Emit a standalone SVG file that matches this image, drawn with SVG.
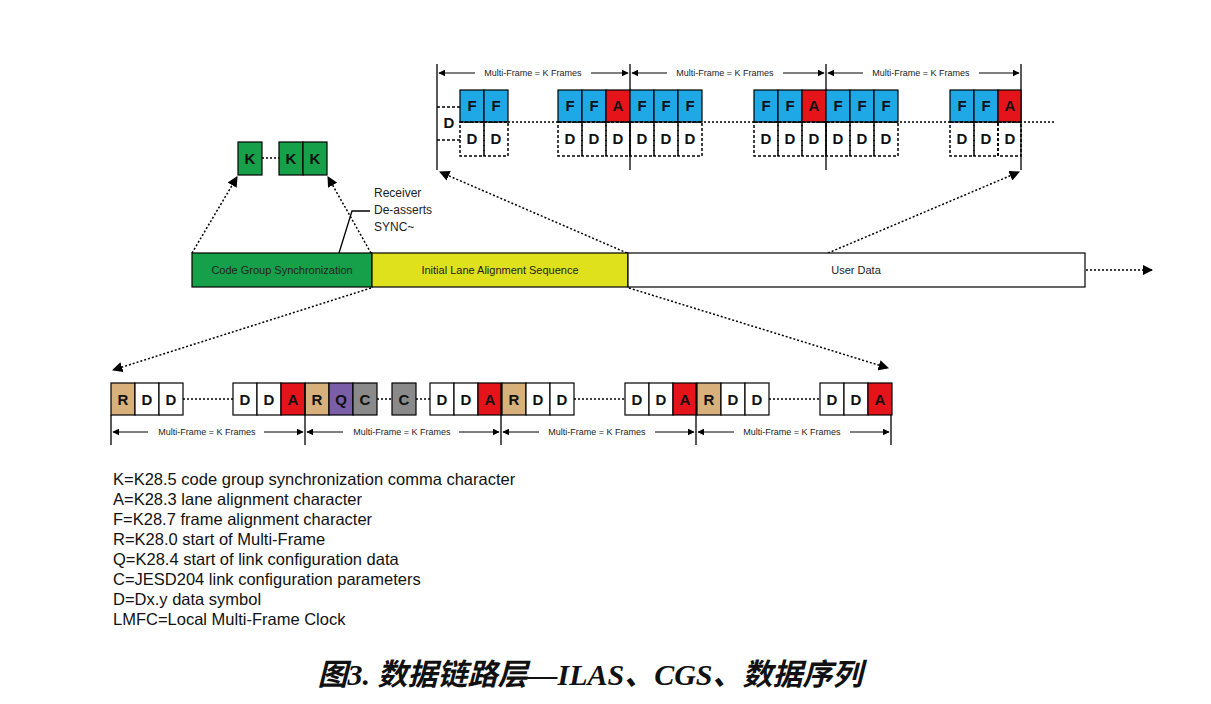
<svg xmlns="http://www.w3.org/2000/svg" width="1211" height="704" viewBox="0 0 1211 704">
<defs>
<marker id="ah" viewBox="0 0 10 10" refX="9" refY="5" markerWidth="7" markerHeight="7" orient="auto-start-reverse"><path d="M0,0 L10,5 L0,10 z" fill="#000"/></marker>
<style>
.b{stroke:#000;stroke-width:1.2}
.dash{fill:none;stroke:#000;stroke-width:1.5;stroke-dasharray:3,2}
.dot{fill:none;stroke:#000;stroke-width:1.5;stroke-dasharray:2,2}
.t{font-family:"Liberation Sans",Arial,sans-serif;font-weight:bold;font-size:15px;text-anchor:middle;fill:#111}
.s{font-family:"Liberation Sans",Arial,sans-serif;font-size:9px;text-anchor:middle;fill:#222}
.m{font-family:"Liberation Sans",Arial,sans-serif;font-size:11px;text-anchor:middle;fill:#222}
.l{font-family:"Liberation Sans",Arial,sans-serif;font-size:16.5px;fill:#111}
.rc{font-family:"Liberation Sans",Arial,sans-serif;font-size:12px;fill:#222}
.ar{stroke:#000;stroke-width:1;marker-start:url(#ah);marker-end:url(#ah)}
.g{fill:#16a04a}.y{fill:#dfe11c}.bl{fill:#1ea8e6}.r{fill:#e5141b}.tan{fill:#d8b07c}.p{fill:#7a5ea8}.gr{fill:#8a8a8a}.w{fill:#fff}
</style>
</defs>
<rect width="1211" height="704" fill="#fff"/>
<g id="connectors">
<line class="dot" x1="192" y1="253" x2="237" y2="177" marker-end="url(#ah)"/>
<line class="dot" x1="371" y1="253" x2="328" y2="177" marker-end="url(#ah)"/>
<polyline points="339,253 352,211 370,211" fill="none" stroke="#000" stroke-width="1.3"/>
<line class="dot" x1="627" y1="253" x2="440" y2="172" marker-end="url(#ah)"/>
<line class="dot" x1="828" y1="253" x2="1019" y2="172" marker-end="url(#ah)"/>
<line class="dot" x1="371" y1="288" x2="113" y2="370" marker-end="url(#ah)"/>
<line class="dot" x1="629" y1="288" x2="888" y2="368" marker-end="url(#ah)"/>
<line class="dot" x1="1086" y1="270" x2="1152" y2="270" marker-end="url(#ah)"/>
</g>
<g id="bar">
<rect class="b g" x="192" y="253" width="180" height="34"/>
<text class="m" x="282" y="274">Code Group Synchronization</text>
<rect class="b y" x="372" y="253" width="256" height="34"/>
<text class="m" x="500" y="274">Initial Lane Alignment Sequence</text>
<rect class="b w" x="628" y="253" width="457" height="34"/>
<text class="m" x="856" y="274">User Data</text>
</g>
<g id="kboxes">
<rect class="b g" x="238" y="142" width="24" height="33"/><text class="t" x="250" y="164">K</text>
<line class="dot" x1="262" y1="158" x2="279" y2="158"/>
<rect class="b g" x="279" y="142" width="24" height="33"/><text class="t" x="291" y="164">K</text>
<rect class="b g" x="303" y="142" width="24" height="33"/><text class="t" x="315" y="164">K</text>
</g>
<g id="receiver">
<text class="rc" x="374" y="197">Receiver</text>
<text class="rc" x="374" y="214">De-asserts</text>
<text class="rc" x="374" y="231">SYNC~</text>
</g>
<g id="top">
<line x1="437" y1="64" x2="437" y2="170" stroke="#000" stroke-width="1.3"/>
<line x1="630" y1="64" x2="630" y2="170" stroke="#000" stroke-width="1.3"/>
<line x1="826" y1="64" x2="826" y2="170" stroke="#000" stroke-width="1.3"/>
<line x1="1021" y1="64" x2="1021" y2="170" stroke="#000" stroke-width="1.3"/>
<line class="ar" x1="439" y1="73" x2="628" y2="73"/>
<line class="ar" x1="632" y1="73" x2="824" y2="73"/>
<line class="ar" x1="828" y1="73" x2="1019" y2="73"/>
<rect x="475" y="67" width="116" height="12" fill="#fff"/><text class="s" x="533" y="76">Multi-Frame = K Frames</text>
<rect x="667" y="67" width="116" height="12" fill="#fff"/><text class="s" x="725" y="76">Multi-Frame = K Frames</text>
<rect x="863" y="67" width="116" height="12" fill="#fff"/><text class="s" x="921" y="76">Multi-Frame = K Frames</text>
<line class="dot" x1="460" y1="122" x2="1055" y2="122"/>
<polyline class="dash" points="437,107 460,107"/><polyline class="dash" points="437,140 460,140"/>
<text class="t" x="449" y="128">D</text>
<g>
<rect class="b bl" x="460" y="90" width="24" height="32"/><text class="t" x="472" y="111">F</text>
<rect class="b bl" x="484" y="90" width="24" height="32"/><text class="t" x="496" y="111">F</text>
<rect class="dash" x="460" y="122" width="24" height="34"/><text class="t" x="472" y="144">D</text>
<rect class="dash" x="484" y="122" width="24" height="34"/><text class="t" x="496" y="144">D</text>
</g>
<g>
<rect class="b bl" x="558" y="90" width="24" height="32"/><text class="t" x="570" y="111">F</text>
<rect class="b bl" x="582" y="90" width="24" height="32"/><text class="t" x="594" y="111">F</text>
<rect class="b r" x="606" y="90" width="24" height="32"/><text class="t" x="618" y="111">A</text>
<rect class="b bl" x="630" y="90" width="24" height="32"/><text class="t" x="642" y="111">F</text>
<rect class="b bl" x="654" y="90" width="24" height="32"/><text class="t" x="666" y="111">F</text>
<rect class="b bl" x="678" y="90" width="24" height="32"/><text class="t" x="690" y="111">F</text>
<rect class="dash" x="558" y="122" width="24" height="34"/><text class="t" x="570" y="144">D</text>
<rect class="dash" x="582" y="122" width="24" height="34"/><text class="t" x="594" y="144">D</text>
<rect class="dash" x="606" y="122" width="24" height="34"/><text class="t" x="618" y="144">D</text>
<rect class="dash" x="630" y="122" width="24" height="34"/><text class="t" x="642" y="144">D</text>
<rect class="dash" x="654" y="122" width="24" height="34"/><text class="t" x="666" y="144">D</text>
<rect class="dash" x="678" y="122" width="24" height="34"/><text class="t" x="690" y="144">D</text>
</g>
<g>
<rect class="b bl" x="754" y="90" width="24" height="32"/><text class="t" x="766" y="111">F</text>
<rect class="b bl" x="778" y="90" width="24" height="32"/><text class="t" x="790" y="111">F</text>
<rect class="b r" x="802" y="90" width="24" height="32"/><text class="t" x="814" y="111">A</text>
<rect class="b bl" x="826" y="90" width="24" height="32"/><text class="t" x="838" y="111">F</text>
<rect class="b bl" x="850" y="90" width="24" height="32"/><text class="t" x="862" y="111">F</text>
<rect class="b bl" x="874" y="90" width="24" height="32"/><text class="t" x="886" y="111">F</text>
<rect class="dash" x="754" y="122" width="24" height="34"/><text class="t" x="766" y="144">D</text>
<rect class="dash" x="778" y="122" width="24" height="34"/><text class="t" x="790" y="144">D</text>
<rect class="dash" x="802" y="122" width="24" height="34"/><text class="t" x="814" y="144">D</text>
<rect class="dash" x="826" y="122" width="24" height="34"/><text class="t" x="838" y="144">D</text>
<rect class="dash" x="850" y="122" width="24" height="34"/><text class="t" x="862" y="144">D</text>
<rect class="dash" x="874" y="122" width="24" height="34"/><text class="t" x="886" y="144">D</text>
</g>
<g>
<rect class="b bl" x="950" y="90" width="24" height="32"/><text class="t" x="962" y="111">F</text>
<rect class="b bl" x="974" y="90" width="24" height="32"/><text class="t" x="986" y="111">F</text>
<rect class="b r" x="998" y="90" width="23" height="32"/><text class="t" x="1010" y="111">A</text>
<rect class="dash" x="950" y="122" width="24" height="34"/><text class="t" x="962" y="144">D</text>
<rect class="dash" x="974" y="122" width="24" height="34"/><text class="t" x="986" y="144">D</text>
<rect class="dash" x="998" y="122" width="23" height="34"/><text class="t" x="1010" y="144">D</text>
</g>
</g>
<g id="bottom">
<line class="dot" x1="183" y1="399" x2="233" y2="399"/>
<line class="dot" x1="377" y1="399" x2="392" y2="399"/>
<line class="dot" x1="416" y1="399" x2="430" y2="399"/>
<line class="dot" x1="574" y1="399" x2="625" y2="399"/>
<line class="dot" x1="769" y1="399" x2="820" y2="399"/>
<rect class="b tan" x="111" y="383" width="24" height="32"/><text class="t" x="123" y="405">R</text>
<rect class="b w" x="135" y="383" width="24" height="32"/><text class="t" x="147" y="405">D</text>
<rect class="b w" x="159" y="383" width="24" height="32"/><text class="t" x="171" y="405">D</text>
<rect class="b w" x="233" y="383" width="24" height="32"/><text class="t" x="245" y="405">D</text>
<rect class="b w" x="257" y="383" width="24" height="32"/><text class="t" x="269" y="405">D</text>
<rect class="b r" x="281" y="383" width="24" height="32"/><text class="t" x="293" y="405">A</text>
<rect class="b tan" x="305" y="383" width="24" height="32"/><text class="t" x="317" y="405">R</text>
<rect class="b p" x="329" y="383" width="24" height="32"/><text class="t" x="341" y="405">Q</text>
<rect class="b gr" x="353" y="383" width="24" height="32"/><text class="t" x="365" y="405">C</text>
<rect class="b gr" x="392" y="383" width="24" height="32"/><text class="t" x="404" y="405">C</text>
<rect class="b w" x="430" y="383" width="24" height="32"/><text class="t" x="442" y="405">D</text>
<rect class="b w" x="454" y="383" width="24" height="32"/><text class="t" x="466" y="405">D</text>
<rect class="b r" x="478" y="383" width="24" height="32"/><text class="t" x="490" y="405">A</text>
<rect class="b tan" x="502" y="383" width="24" height="32"/><text class="t" x="514" y="405">R</text>
<rect class="b w" x="526" y="383" width="24" height="32"/><text class="t" x="538" y="405">D</text>
<rect class="b w" x="550" y="383" width="24" height="32"/><text class="t" x="562" y="405">D</text>
<rect class="b w" x="625" y="383" width="24" height="32"/><text class="t" x="637" y="405">D</text>
<rect class="b w" x="649" y="383" width="24" height="32"/><text class="t" x="661" y="405">D</text>
<rect class="b r" x="673" y="383" width="24" height="32"/><text class="t" x="685" y="405">A</text>
<rect class="b tan" x="697" y="383" width="24" height="32"/><text class="t" x="709" y="405">R</text>
<rect class="b w" x="721" y="383" width="24" height="32"/><text class="t" x="733" y="405">D</text>
<rect class="b w" x="745" y="383" width="24" height="32"/><text class="t" x="757" y="405">D</text>
<rect class="b w" x="820" y="383" width="24" height="32"/><text class="t" x="832" y="405">D</text>
<rect class="b w" x="844" y="383" width="24" height="32"/><text class="t" x="856" y="405">D</text>
<rect class="b r" x="868" y="383" width="24" height="32"/><text class="t" x="880" y="405">A</text>
<g stroke="#000" stroke-width="1.3">
<line x1="111" y1="415" x2="111" y2="445"/><line x1="305" y1="383" x2="305" y2="445"/><line x1="501" y1="383" x2="501" y2="445"/><line x1="696" y1="383" x2="696" y2="445"/><line x1="891" y1="415" x2="891" y2="445"/>
</g>
<line class="ar" x1="113" y1="432" x2="303" y2="432"/>
<line class="ar" x1="307" y1="432" x2="499" y2="432"/>
<line class="ar" x1="503" y1="432" x2="694" y2="432"/>
<line class="ar" x1="698" y1="432" x2="889" y2="432"/>
<rect x="148" y="426" width="116" height="12" fill="#fff"/><text class="s" x="207" y="435">Multi-Frame = K Frames</text>
<rect x="343" y="426" width="116" height="12" fill="#fff"/><text class="s" x="402" y="435">Multi-Frame = K Frames</text>
<rect x="539" y="426" width="116" height="12" fill="#fff"/><text class="s" x="597" y="435">Multi-Frame = K Frames</text>
<rect x="734" y="426" width="116" height="12" fill="#fff"/><text class="s" x="792" y="435">Multi-Frame = K Frames</text>
</g>
<g id="legend">
<text class="l" x="113" y="485">K=K28.5 code group synchronization comma character</text>
<text class="l" x="113" y="505">A=K28.3 lane alignment character</text>
<text class="l" x="113" y="525">F=K28.7 frame alignment character</text>
<text class="l" x="113" y="545">R=K28.0 start of Multi-Frame</text>
<text class="l" x="113" y="565">Q=K28.4 start of link configuration data</text>
<text class="l" x="113" y="585">C=JESD204 link configuration parameters</text>
<text class="l" x="113" y="605">D=Dx.y data symbol</text>
<text class="l" x="113" y="625">LMFC=Local Multi-Frame Clock</text>
</g>
<text x="590" y="685" text-anchor="middle" font-family="'Liberation Serif','Noto Sans CJK SC',serif" font-style="italic" font-weight="bold" font-size="30" fill="#111">图3. 数据链路层—ILAS、CGS、数据序列</text>
</svg>
